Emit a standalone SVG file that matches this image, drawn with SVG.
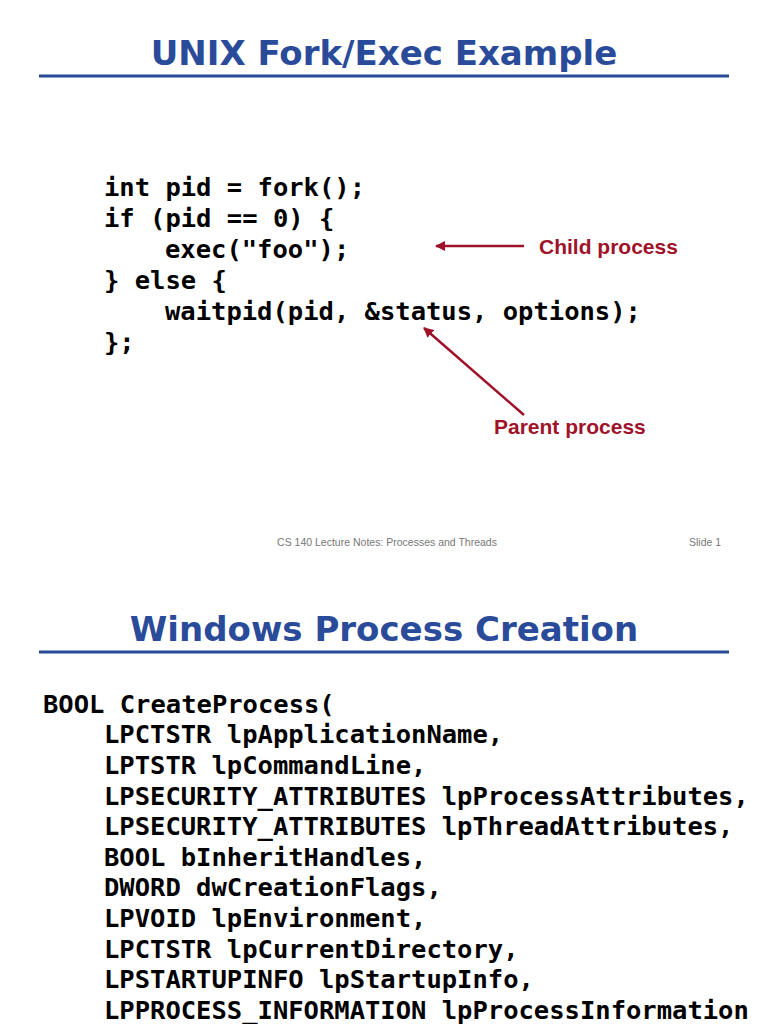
<svg xmlns="http://www.w3.org/2000/svg" width="768" height="1024" viewBox="0 0 768 1024">
<defs>
<style>
.t{font-family:"DejaVu Sans",sans-serif;font-weight:bold;font-size:34px;fill:#2a4a9a;text-anchor:middle}
.c{font-family:"DejaVu Sans Mono",monospace;font-weight:bold;font-size:25.5px;fill:#000}
.a{font-family:"Liberation Sans",Arial,sans-serif;font-weight:bold;font-size:21px;fill:#a0122a}
.f{font-family:"Liberation Sans",Arial,sans-serif;font-size:10.5px;fill:#777}
.r{stroke:#2a4a9a;stroke-width:3}
.ar{stroke:#a0122a;stroke-width:2.5;fill:none}
</style>
<marker id="h" viewBox="0 0 10 10" refX="9" refY="5" markerWidth="4" markerHeight="4" orient="auto"><path d="M0,0L10,5L0,10z" fill="#a0122a"/></marker>
</defs>
<rect width="768" height="1024" fill="#fff"/>
<text class="t" x="384" y="65">UNIX Fork/Exec Example</text>
<line class="r" x1="39" y1="76" x2="729" y2="76"/>
<g class="c">
<text x="104" y="196">int pid = fork();</text>
<text x="104" y="227">if (pid == 0) {</text>
<text x="165" y="258">exec("foo");</text>
<text x="104" y="289">} else {</text>
<text x="165" y="320">waitpid(pid, &amp;status, options);</text>
<text x="104" y="351">};</text>
</g>
<g id="connectors">
<line class="ar" x1="524" y1="246" x2="436" y2="246" marker-end="url(#h)"/>
<line class="ar" x1="524" y1="415" x2="424" y2="328" marker-end="url(#h)"/>
</g>
<text class="a" x="539" y="254">Child process</text>
<text class="a" x="494" y="434">Parent process</text>
<text class="f" x="387" y="546" text-anchor="middle">CS 140 Lecture Notes: Processes and Threads</text>
<text class="f" x="689" y="546">Slide 1</text>
<text class="t" x="384" y="641">Windows Process Creation</text>
<line class="r" x1="39" y1="652" x2="729" y2="652"/>
<g class="c">
<text x="43" y="713">BOOL CreateProcess(</text>
<text x="104" y="743">LPCTSTR lpApplicationName,</text>
<text x="104" y="774">LPTSTR lpCommandLine,</text>
<text x="104" y="805">LPSECURITY_ATTRIBUTES lpProcessAttributes,</text>
<text x="104" y="835">LPSECURITY_ATTRIBUTES lpThreadAttributes,</text>
<text x="104" y="866">BOOL bInheritHandles,</text>
<text x="104" y="896">DWORD dwCreationFlags,</text>
<text x="104" y="927">LPVOID lpEnvironment,</text>
<text x="104" y="958">LPCTSTR lpCurrentDirectory,</text>
<text x="104" y="988">LPSTARTUPINFO lpStartupInfo,</text>
<text x="104" y="1019">LPPROCESS_INFORMATION lpProcessInformation</text>
</g>
</svg>
